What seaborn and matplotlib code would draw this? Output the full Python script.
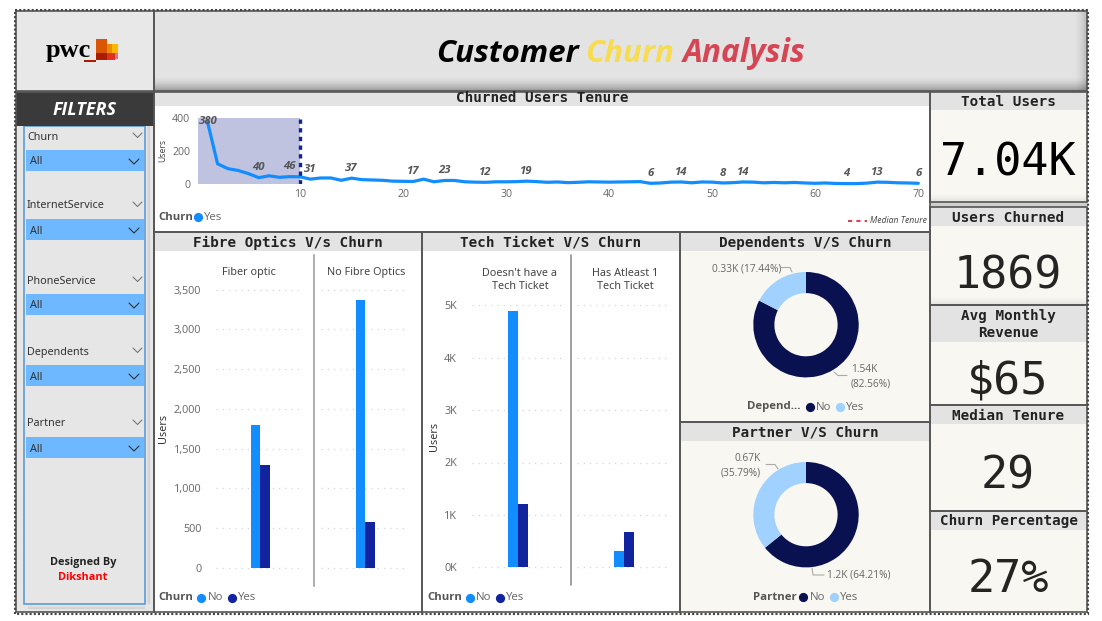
from matplotlib import pyplot as plt
from matplotlib.patches import Rectangle
import numpy as np
import pandas as pd
import seaborn as sns

W, H = 1102, 621

tenure = list(range(1, 71))
churned_users = [380, 123, 94, 83, 64, 40, 51, 42, 46, 45, 31, 38, 38, 24, 37, 28, 26, 24, 19, 18,
                 17, 31, 15, 23, 23, 15, 13, 12, 15, 15, 16, 19, 16, 12, 14, 10, 12, 15, 14, 13,
                 14, 15, 16, 6, 8, 13, 14, 9, 14, 13, 8, 10, 14, 13, 9, 11, 9, 11, 8, 6,
                 8, 5, 4, 4, 7, 13, 12, 9, 8, 6]
labelled_tenure = [1, 6, 9, 11, 15, 21, 24, 28, 32, 44, 47, 51, 53, 63, 66, 70]
median_line = 10

churn_levels = ["No", "Yes"]
fibre_groups = ["Fiber optic", "No Fibre Optics"]
fibre_no = [1800, 3374]
fibre_yes = [1297, 572]
fibre_ticks = [0, 500, 1000, 1500, 2000, 2500, 3000, 3500]

ticket_groups = ["Doesn't have a\nTech Ticket", "Has Atleast 1\nTech Ticket"]
ticket_no = [4885, 305]
ticket_yes = [1202, 674]
ticket_ticks = [0, 1000, 2000, 3000, 4000, 5000]

dependents_share = [82.56, 17.44]
partner_share = [64.21, 35.79]

slicers = ["Churn", "InternetService", "PhoneService", "Dependents", "Partner"]
slicer_rows = [136, 205, 280, 351, 423]

kpi_titles = ["Total Users", "Users Churned", "Avg Monthly\nRevenue", "Median Tenure", "Churn Percentage"]
kpi_values = ["7.04K", "1869", "$65", "29", "27%"]

BLUE = "#118dff"
NAVY = "#12239e"
DONUT_DARK = "#0a1150"
DONUT_LIGHT = "#a0d1ff"
BAND = "#e3e3e3"
CREAM = "#f8f7f2"
EDGE = "#555555"
TITLE_FONT = "DejaVu Sans Mono"
UI_FONT = "Open Sans"

sns.set_theme(style="white")
plt.rcParams["font.family"] = ["Open Sans", "DejaVu Sans"]

fig = plt.figure(figsize=(W / 100, H / 100), dpi=100, facecolor="white")

# layer in pixel coordinates for the panels, text and legends
bg = fig.add_axes([0, 0, 1, 1], zorder=0)
bg.set_xlim(0, W)
bg.set_ylim(H, 0)
bg.axis("off")


def px_axes(l, t, r, b):
    ax = fig.add_axes([l / W, 1 - b / H, (r - l) / W, (b - t) / H], zorder=2)
    ax.patch.set_alpha(0)
    return ax


def box(l, t, r, b, color, edge="none", lw=0, z=1):
    bg.add_patch(Rectangle((l, t), r - l, b - t, facecolor=color, edgecolor=edge, linewidth=lw, zorder=z))


def shadow(l, t, r, b, vertical=True, strength=0.4):
    n = 24
    ramp = np.linspace(0, strength, n) ** 1.6
    img = np.zeros((n, 1, 4)) if vertical else np.zeros((1, n, 4))
    img[..., 3] = ramp.reshape(img.shape[:2])
    bg.imshow(img, extent=(l, r, b, t), aspect="auto", zorder=2, interpolation="bilinear")
    bg.set_xlim(0, W)
    bg.set_ylim(H, 0)


def txt(x, y, s, size=8, color="#333333", ha="left", va="center", **kw):
    kw.setdefault("family", UI_FONT)
    return bg.text(x, y, s, fontsize=size, color=color, ha=ha, va=va, zorder=5, **kw)


def panel(l, t, r, b, title, band_bottom, face="white", dy=0):
    box(l, t, r, b, face)
    box(l, t, r, band_bottom, BAND)
    box(l, t, r, b, "none", EDGE, 1.2, z=4)
    lines = title.split("\n")
    first = (t + band_bottom) / 2 + 5 + dy - 17.7 * (len(lines) - 1) / 2
    for i, s in enumerate(lines):
        txt((l + r) / 2, first + 17.7 * i, s, 10.3, "#222222", ha="center", va="baseline",
            family=TITLE_FONT, weight="bold")


def legend_row(x, y, name, items, colors):
    txt(x, y, name[0], 8.2, "#555555", weight="bold")
    for (dot_x, text_x), label, c in zip(items, name[1:], colors):
        bg.scatter([dot_x], [y], s=44, color=c, zorder=5, linewidths=0)
        txt(text_x, y, label, 8.2, "#666666")


def leader(xs, ys):
    bg.plot(xs, ys, color="#aaaaaa", lw=0.8, zorder=5)


# outer frame, top strip
box(16, 11, 154, 91, "#e8e8e8")
box(154, 11, 1087, 91, BAND)
shadow(154, 76, 1087, 91, strength=0.5)
shadow(1074, 11, 1087, 91, vertical=False, strength=0.35)
box(16, 11, 154, 91, "none", EDGE, 1.2, z=4)
box(154, 11, 1087, 91, "none", EDGE, 1.2, z=4)
bg.add_patch(Rectangle((15, 9.5), 1073, 604, fill=False, edgecolor="#444444", lw=1.5,
                       linestyle=(0, (1, 1)), zorder=6))

txt(436.5, 54, "Customer", 22.5, "black", family=UI_FONT, weight="bold", style="italic")
txt(585, 54, "Churn", 22.5, "#f7dc4f", family=UI_FONT, weight="bold", style="italic")
txt(683, 54, "Analysis", 22.8, "#d64554", family=UI_FONT, weight="bold", style="italic")

# logo
txt(46, 51, "pwc", 19, "black", family="Liberation Serif", weight="bold")
for l, t, r, b, c in [(96, 39, 107, 60, "#d85604"), (107, 44, 115, 60, "#eb8c00"), (112, 44, 118, 53, "#ffb600"),
                      (96, 53, 107, 60, "#ad1b02"), (107, 53, 115, 60, "#e0301e"), (115, 53, 118, 59, "#e669a2"),
                      (84, 60, 96, 62, "#ad1b02")]:
    box(l, t, r, b, c, z=3)

# filter column
box(16, 92, 154, 612, "#e6e6e6")
shadow(145, 126, 150, 604, vertical=False, strength=0.25)
shadow(28, 604, 145, 609, strength=0.25)
box(24, 126, 145, 604, "#e6e6e6", "#5b9bd5", 1.2, z=3)
box(16, 92, 154, 126, "#3a3a3a", z=3)
txt(85, 110, "FILTERS", 13, "white", ha="center", family=UI_FONT, weight="bold", style="italic")
box(16, 92, 154, 612, "none", EDGE, 1.2, z=4)
for name, y in zip(slicers, slicer_rows):
    txt(27, y + 1, name, 7.8, "#333333", family="Noto Sans")
    bg.plot([133, 137.5, 142], [y - 3, y + 1.5, y - 3], color="#777777", lw=0.8, zorder=5)
    box(26, y + 14, 144, y + 35, "#6db8ff", z=3)
    txt(30, y + 26, "All", 7.8, "#333333", family="Noto Sans")
    bg.plot([129, 134, 139], [y + 23, y + 28, y + 23], color="#333333", lw=0.8, zorder=5)
txt(83, 563, "Designed By", 7.8, "#222222", ha="center", weight="bold")
txt(83, 578, "Dikshant", 7.8, "#ff0000", ha="center", weight="bold")

# tenure line
panel(154, 92, 930, 232, "Churned Users Tenure", 106, dy=-2)
ax = px_axes(198, 117.7, 926, 184.3)
ax.set_xlim(0.1, 70.75)
ax.set_ylim(0, 400)
ax.axvspan(0.1, median_line, color="#bfc3e0", lw=0, zorder=0)
line_df = pd.DataFrame({"tenure": tenure, "users": churned_users})
sns.lineplot(data=line_df, x="tenure", y="users", color=BLUE, lw=2.3, ax=ax, clip_on=False, zorder=2)
ax.axvline(median_line, color=NAVY, lw=2.4, linestyle=(0, (1.3, 1.3)), zorder=3)
for t in labelled_tenure:
    v = churned_users[t - 1]
    off = 0 if v == max(churned_users) else 7
    ax.annotate(str(v), (t, v), xytext=(1 if off == 0 else 0, off), textcoords="offset points", ha="center",
                va="center", fontsize=8.2, color="#555555", style="italic", weight="bold", zorder=4)
ax.set_xticks([10, 20, 30, 40, 50, 60, 70])
ax.set_yticks([0, 200, 400])
ax.set_xlabel("")
ax.set_ylabel("")
ax.tick_params(axis="x", length=0, pad=3.5, labelsize=7.6, labelcolor="#666666")
ax.tick_params(axis="y", length=0, pad=5.5, labelsize=7.6, labelcolor="#666666")
sns.despine(ax=ax, left=True, bottom=True)
txt(163, 150, "Users", 6.2, "#444444", ha="center", rotation=90)
legend_row(158, 217, ["Churn", "Yes"], [(198, 204)], [BLUE])
bg.plot([848, 867], [220.5, 220.5], color="#d64554", lw=1.5, linestyle=(0, (2, 2)), zorder=5)
txt(870, 220.5, "Median Tenure", 6.2, "#444444", style="italic")


def draw_facet(l, t, r, b, group, no, yes, ticks, tick_fmt, first):
    df = pd.DataFrame({"group": [group, group], "Churn": churn_levels, "users": [no, yes]})
    a = px_axes(l, t, r, b)
    sns.barplot(data=df, x="group", y="users", hue="Churn", palette=[BLUE, NAVY], width=0.215,
                gap=0, saturation=1, linewidth=0, legend=False, ax=a, zorder=3)
    a.set_xlim(-0.51, 0.49)
    a.set_ylim(0, ticks[-1])
    a.set_yticks(ticks)
    a.set_xticks([])
    a.set_xlabel("")
    a.set_ylabel("")
    a.grid(axis="y", color="#d5d5d5", lw=0.9, linestyle=(0, (1, 4)), clip_on=False)
    a.set_axisbelow(True)
    if first:
        a.set_yticklabels([tick_fmt(v) for v in ticks])
    else:
        a.tick_params(axis="y", labelleft=False)
    a.tick_params(axis="y", length=0, pad=10.5, labelsize=7.8, labelcolor="#666666")
    sns.despine(ax=a, left=True, bottom=True)
    return a


# fibre optics small multiples
panel(154, 232, 422, 612, "Fibre Optics V/s Churn", 251)
draw_facet(216, 289.7, 303, 567.7, fibre_groups[0], fibre_no[0], fibre_yes[0], fibre_ticks, lambda v: f"{v:,}", True)
draw_facet(321, 289.7, 408, 567.7, fibre_groups[1], fibre_no[1], fibre_yes[1], fibre_ticks, lambda v: f"{v:,}", False)
txt(248.5, 273, fibre_groups[0], 7.8, "#444444", ha="center", family="Noto Sans")
txt(366, 273, fibre_groups[1], 7.8, "#444444", ha="center", family="Noto Sans")
bg.plot([314, 314], [255, 586], color="#b0b0b0", lw=1.5, zorder=5)
txt(163.5, 428, "Users", 7.8, "#333333", ha="center", rotation=90, family="Noto Sans")
legend_row(158, 598, ["Churn", "No", "Yes"], [(201, 207.5), (231.5, 237.5)], [BLUE, NAVY])

# tech ticket small multiples
panel(422, 232, 680, 612, "Tech Ticket V/S Churn", 251)
draw_facet(471.7, 305.3, 563, 567.3, ticket_groups[0], ticket_no[0], ticket_yes[0], ticket_ticks,
           lambda v: f"{v // 1000}K", True)
draw_facet(576.7, 305.3, 669, 567.3, ticket_groups[1], ticket_no[1], ticket_yes[1], ticket_ticks,
           lambda v: f"{v // 1000}K", False)
txt(520, 280, ticket_groups[0], 7.8, "#444444", ha="center", family="Noto Sans", linespacing=1.25)
txt(625.5, 280, ticket_groups[1], 7.8, "#444444", ha="center", family="Noto Sans", linespacing=1.25)
bg.plot([570.5, 570.5], [255, 585], color="#909090", lw=1.2, zorder=5)
txt(434, 436, "Users", 7.8, "#333333", ha="center", rotation=90, family="Noto Sans")
legend_row(427, 598, ["Churn", "No", "Yes"], [(470, 476), (500, 506)], [BLUE, NAVY])


def donut(cx, cy, radius, share):
    a = px_axes(cx - radius, cy - radius, cx + radius, cy + radius)
    a.pie(share, colors=[DONUT_DARK, DONUT_LIGHT], startangle=90, counterclock=False, radius=1.0,
          wedgeprops={"width": 0.4, "linewidth": 0})
    a.set_xlim(-1, 1)
    a.set_ylim(-1, 1)


# donuts
panel(680, 232, 930, 422, "Dependents V/S Churn", 251, CREAM)
donut(806, 324.7, 52.7, dependents_share)
txt(712, 268.7, "0.33K (17.44%)", 7.3, "#666666")
leader([780, 790, 792], [267.5, 267.5, 272])
txt(851, 370, "1.54K", 7.3, "#666666")
txt(851, 383.7, "(82.56%)", 7.3, "#666666")
leader([834, 838, 847], [372, 375.5, 375.5])
legend_row(747, 407, ["Depend...", "No", "Yes"], [(809.5, 816), (840, 846)], [DONUT_DARK, DONUT_LIGHT])

panel(680, 422, 930, 612, "Partner V/S Churn", 441, CREAM)
donut(806, 514.7, 52.7, partner_share)
txt(761, 458.7, "0.67K", 7.3, "#666666", ha="right")
txt(761, 473, "(35.79%)", 7.3, "#666666", ha="right")
leader([766, 775, 778], [464.5, 464.5, 469])
txt(827, 574.7, "1.2K (64.21%)", 7.3, "#666666")
leader([812, 813, 824], [568, 575, 575])
legend_row(753, 597, ["Partner", "No", "Yes"], [(803, 809.5), (833.5, 840)], [DONUT_DARK, DONUT_LIGHT])

# kpi cards
kpi_tops = [92, 207, 305, 405, 511]
kpi_bands = [110, 226, 342, 424, 530]
kpi_bottoms = [202, 305, 405, 511, 612]
kpi_y = [163, 276, 381, 476, 579]
kpi_colors = ["black", "#252423", "#252423", "#252423", "#252423"]
box(930, 92, 1087, 612, "#cfcfcf")
for title, value, top, band, bottom, y, c in zip(kpi_titles, kpi_values, kpi_tops, kpi_bands, kpi_bottoms, kpi_y, kpi_colors):
    panel(930, top, 1087, bottom, title, band, CREAM)
    txt(1008, y, value, 32.5, c, ha="center", family=TITLE_FONT)
shadow(931, 192, 1086, 202, strength=0.22)
shadow(931, 295, 1086, 305, strength=0.22)

fig.savefig("out.png", dpi=100)
